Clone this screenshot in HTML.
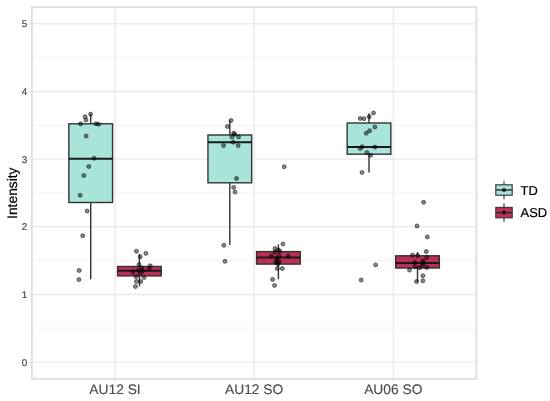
<!DOCTYPE html>
<html><head><meta charset="utf-8"><style>
html,body{margin:0;padding:0;background:#fff;width:550px;height:401px;overflow:hidden}
svg{display:block;font-family:"Liberation Sans",Arial,sans-serif;text-rendering:geometricPrecision}
</style></head><body>
<svg width="550" height="401" viewBox="0 0 550 401">
<rect x="0" y="0" width="550" height="401" fill="#fff"/>
<line x1="31.9" x2="476.4" y1="328.27" y2="328.27" stroke="#f5f5f5" stroke-width="1.2"/>
<line x1="31.9" x2="476.4" y1="260.61" y2="260.61" stroke="#f5f5f5" stroke-width="1.2"/>
<line x1="31.9" x2="476.4" y1="192.95" y2="192.95" stroke="#f5f5f5" stroke-width="1.2"/>
<line x1="31.9" x2="476.4" y1="125.29" y2="125.29" stroke="#f5f5f5" stroke-width="1.2"/>
<line x1="31.9" x2="476.4" y1="57.63" y2="57.63" stroke="#f5f5f5" stroke-width="1.2"/>
<line x1="31.9" x2="476.4" y1="362.10" y2="362.10" stroke="#ebebeb" stroke-width="1.4"/>
<line x1="31.9" x2="476.4" y1="294.44" y2="294.44" stroke="#ebebeb" stroke-width="1.4"/>
<line x1="31.9" x2="476.4" y1="226.78" y2="226.78" stroke="#ebebeb" stroke-width="1.4"/>
<line x1="31.9" x2="476.4" y1="159.12" y2="159.12" stroke="#ebebeb" stroke-width="1.4"/>
<line x1="31.9" x2="476.4" y1="91.46" y2="91.46" stroke="#ebebeb" stroke-width="1.4"/>
<line x1="31.9" x2="476.4" y1="23.80" y2="23.80" stroke="#ebebeb" stroke-width="1.4"/>
<line x1="115.0" x2="115.0" y1="7.05" y2="378.8" stroke="#ebebeb" stroke-width="1.4"/>
<line x1="254.15" x2="254.15" y1="7.05" y2="378.8" stroke="#ebebeb" stroke-width="1.4"/>
<line x1="393.3" x2="393.3" y1="7.05" y2="378.8" stroke="#ebebeb" stroke-width="1.4"/>
<line x1="90.7" x2="90.7" y1="114.0" y2="123.8" stroke="#333333" stroke-width="1.4"/>
<line x1="90.7" x2="90.7" y1="202.5" y2="279.3" stroke="#333333" stroke-width="1.4"/>
<rect x="68.85" y="123.8" width="43.70" height="78.70" fill="#a8e4d9" stroke="#333333" stroke-width="1.4"/>
<line x1="68.85" x2="112.55" y1="158.75" y2="158.75" stroke="#1a1a1a" stroke-width="2.0"/>
<line x1="139.4" x2="139.4" y1="253.9" y2="266.5" stroke="#333333" stroke-width="1.4"/>
<line x1="139.4" x2="139.4" y1="275.9" y2="286.5" stroke="#333333" stroke-width="1.4"/>
<rect x="117.55" y="266.5" width="43.70" height="9.40" fill="#bb2f57" stroke="#333333" stroke-width="1.4"/>
<line x1="117.55" x2="161.25" y1="270.7" y2="270.7" stroke="#1a1a1a" stroke-width="2.0"/>
<line x1="229.8" x2="229.8" y1="120.5" y2="135.0" stroke="#333333" stroke-width="1.4"/>
<line x1="229.8" x2="229.8" y1="182.8" y2="244.9" stroke="#333333" stroke-width="1.4"/>
<rect x="207.95" y="135.0" width="43.70" height="47.80" fill="#a8e4d9" stroke="#333333" stroke-width="1.4"/>
<line x1="207.95" x2="251.65" y1="142.3" y2="142.3" stroke="#1a1a1a" stroke-width="2.0"/>
<line x1="278.4" x2="278.4" y1="244.3" y2="251.6" stroke="#333333" stroke-width="1.4"/>
<line x1="278.4" x2="278.4" y1="264.1" y2="279.3" stroke="#333333" stroke-width="1.4"/>
<rect x="256.55" y="251.6" width="43.70" height="12.50" fill="#bb2f57" stroke="#333333" stroke-width="1.4"/>
<line x1="256.55" x2="300.25" y1="257.6" y2="257.6" stroke="#1a1a1a" stroke-width="2.0"/>
<line x1="369.0" x2="369.0" y1="113.3" y2="123.0" stroke="#333333" stroke-width="1.4"/>
<line x1="369.0" x2="369.0" y1="154.2" y2="172.4" stroke="#333333" stroke-width="1.4"/>
<rect x="347.15" y="123.0" width="43.70" height="31.20" fill="#a8e4d9" stroke="#333333" stroke-width="1.4"/>
<line x1="347.15" x2="390.85" y1="147.0" y2="147.0" stroke="#1a1a1a" stroke-width="2.0"/>
<line x1="417.5" x2="417.5" y1="252.1" y2="255.8" stroke="#333333" stroke-width="1.4"/>
<line x1="417.5" x2="417.5" y1="268.0" y2="281.9" stroke="#333333" stroke-width="1.4"/>
<rect x="395.65" y="255.8" width="43.70" height="12.20" fill="#bb2f57" stroke="#333333" stroke-width="1.4"/>
<line x1="395.65" x2="439.35" y1="262.9" y2="262.9" stroke="#1a1a1a" stroke-width="2.0"/>
<circle cx="90.6" cy="114.1" r="2.0" fill="rgba(0,0,0,0.47)" stroke="rgba(0,0,0,0.62)" stroke-width="0.8"/>
<circle cx="85.1" cy="116.7" r="2.0" fill="rgba(0,0,0,0.47)" stroke="rgba(0,0,0,0.62)" stroke-width="0.8"/>
<circle cx="86.0" cy="119.9" r="2.0" fill="rgba(0,0,0,0.47)" stroke="rgba(0,0,0,0.62)" stroke-width="0.8"/>
<circle cx="80.6" cy="123.8" r="2.0" fill="rgba(0,0,0,0.47)" stroke="rgba(0,0,0,0.62)" stroke-width="0.8"/>
<circle cx="95.9" cy="123.7" r="2.0" fill="rgba(0,0,0,0.47)" stroke="rgba(0,0,0,0.62)" stroke-width="0.8"/>
<circle cx="98.6" cy="124.3" r="2.0" fill="rgba(0,0,0,0.47)" stroke="rgba(0,0,0,0.62)" stroke-width="0.8"/>
<circle cx="86.2" cy="136.1" r="2.0" fill="rgba(0,0,0,0.47)" stroke="rgba(0,0,0,0.62)" stroke-width="0.8"/>
<circle cx="94.1" cy="158.3" r="2.0" fill="rgba(0,0,0,0.47)" stroke="rgba(0,0,0,0.62)" stroke-width="0.8"/>
<circle cx="88.8" cy="166.5" r="2.0" fill="rgba(0,0,0,0.47)" stroke="rgba(0,0,0,0.62)" stroke-width="0.8"/>
<circle cx="83.8" cy="175.5" r="2.0" fill="rgba(0,0,0,0.47)" stroke="rgba(0,0,0,0.62)" stroke-width="0.8"/>
<circle cx="80.1" cy="195.3" r="2.0" fill="rgba(0,0,0,0.47)" stroke="rgba(0,0,0,0.62)" stroke-width="0.8"/>
<circle cx="87.1" cy="211.1" r="2.0" fill="rgba(0,0,0,0.47)" stroke="rgba(0,0,0,0.62)" stroke-width="0.8"/>
<circle cx="82.7" cy="235.7" r="2.0" fill="rgba(0,0,0,0.47)" stroke="rgba(0,0,0,0.62)" stroke-width="0.8"/>
<circle cx="79.2" cy="270.5" r="2.0" fill="rgba(0,0,0,0.47)" stroke="rgba(0,0,0,0.62)" stroke-width="0.8"/>
<circle cx="78.9" cy="279.6" r="2.0" fill="rgba(0,0,0,0.47)" stroke="rgba(0,0,0,0.62)" stroke-width="0.8"/>
<circle cx="136.5" cy="251.25" r="2.0" fill="rgba(0,0,0,0.47)" stroke="rgba(0,0,0,0.62)" stroke-width="0.8"/>
<circle cx="145.9" cy="253.4" r="2.0" fill="rgba(0,0,0,0.47)" stroke="rgba(0,0,0,0.62)" stroke-width="0.8"/>
<circle cx="140.25" cy="256.75" r="2.0" fill="rgba(0,0,0,0.47)" stroke="rgba(0,0,0,0.62)" stroke-width="0.8"/>
<circle cx="139.0" cy="264.6" r="2.0" fill="rgba(0,0,0,0.47)" stroke="rgba(0,0,0,0.62)" stroke-width="0.8"/>
<circle cx="150.2" cy="265.8" r="2.0" fill="rgba(0,0,0,0.47)" stroke="rgba(0,0,0,0.62)" stroke-width="0.8"/>
<circle cx="149.1" cy="269.1" r="2.0" fill="rgba(0,0,0,0.47)" stroke="rgba(0,0,0,0.62)" stroke-width="0.8"/>
<circle cx="141.8" cy="268.0" r="2.0" fill="rgba(0,0,0,0.47)" stroke="rgba(0,0,0,0.62)" stroke-width="0.8"/>
<circle cx="132.9" cy="271.9" r="2.0" fill="rgba(0,0,0,0.47)" stroke="rgba(0,0,0,0.62)" stroke-width="0.8"/>
<circle cx="138.5" cy="270.2" r="2.0" fill="rgba(0,0,0,0.47)" stroke="rgba(0,0,0,0.62)" stroke-width="0.8"/>
<circle cx="140.1" cy="273.6" r="2.0" fill="rgba(0,0,0,0.47)" stroke="rgba(0,0,0,0.62)" stroke-width="0.8"/>
<circle cx="136.0" cy="276.7" r="2.0" fill="rgba(0,0,0,0.47)" stroke="rgba(0,0,0,0.62)" stroke-width="0.8"/>
<circle cx="144.0" cy="277.5" r="2.0" fill="rgba(0,0,0,0.47)" stroke="rgba(0,0,0,0.62)" stroke-width="0.8"/>
<circle cx="136.5" cy="281.5" r="2.0" fill="rgba(0,0,0,0.47)" stroke="rgba(0,0,0,0.62)" stroke-width="0.8"/>
<circle cx="140.7" cy="281.5" r="2.0" fill="rgba(0,0,0,0.47)" stroke="rgba(0,0,0,0.62)" stroke-width="0.8"/>
<circle cx="135.4" cy="286.6" r="2.0" fill="rgba(0,0,0,0.47)" stroke="rgba(0,0,0,0.62)" stroke-width="0.8"/>
<circle cx="142.5" cy="271.0" r="2.0" fill="rgba(0,0,0,0.47)" stroke="rgba(0,0,0,0.62)" stroke-width="0.8"/>
<circle cx="231.0" cy="120.5" r="2.0" fill="rgba(0,0,0,0.47)" stroke="rgba(0,0,0,0.62)" stroke-width="0.8"/>
<circle cx="227.4" cy="126.5" r="2.0" fill="rgba(0,0,0,0.47)" stroke="rgba(0,0,0,0.62)" stroke-width="0.8"/>
<circle cx="233.7" cy="133.2" r="2.0" fill="rgba(0,0,0,0.47)" stroke="rgba(0,0,0,0.62)" stroke-width="0.8"/>
<circle cx="234.7" cy="134.2" r="2.0" fill="rgba(0,0,0,0.47)" stroke="rgba(0,0,0,0.62)" stroke-width="0.8"/>
<circle cx="231.9" cy="136.9" r="2.0" fill="rgba(0,0,0,0.47)" stroke="rgba(0,0,0,0.62)" stroke-width="0.8"/>
<circle cx="238.6" cy="136.9" r="2.0" fill="rgba(0,0,0,0.47)" stroke="rgba(0,0,0,0.62)" stroke-width="0.8"/>
<circle cx="233.2" cy="142.2" r="2.0" fill="rgba(0,0,0,0.47)" stroke="rgba(0,0,0,0.62)" stroke-width="0.8"/>
<circle cx="223.5" cy="145.6" r="2.0" fill="rgba(0,0,0,0.47)" stroke="rgba(0,0,0,0.62)" stroke-width="0.8"/>
<circle cx="238.2" cy="145.6" r="2.0" fill="rgba(0,0,0,0.47)" stroke="rgba(0,0,0,0.62)" stroke-width="0.8"/>
<circle cx="236.5" cy="178.4" r="2.0" fill="rgba(0,0,0,0.47)" stroke="rgba(0,0,0,0.62)" stroke-width="0.8"/>
<circle cx="233.7" cy="187.4" r="2.0" fill="rgba(0,0,0,0.47)" stroke="rgba(0,0,0,0.62)" stroke-width="0.8"/>
<circle cx="235.0" cy="192.1" r="2.0" fill="rgba(0,0,0,0.47)" stroke="rgba(0,0,0,0.62)" stroke-width="0.8"/>
<circle cx="223.8" cy="245.3" r="2.0" fill="rgba(0,0,0,0.47)" stroke="rgba(0,0,0,0.62)" stroke-width="0.8"/>
<circle cx="225.0" cy="261.3" r="2.0" fill="rgba(0,0,0,0.47)" stroke="rgba(0,0,0,0.62)" stroke-width="0.8"/>
<circle cx="284.2" cy="166.8" r="2.0" fill="rgba(0,0,0,0.47)" stroke="rgba(0,0,0,0.62)" stroke-width="0.8"/>
<circle cx="282.9" cy="244.0" r="2.0" fill="rgba(0,0,0,0.47)" stroke="rgba(0,0,0,0.62)" stroke-width="0.8"/>
<circle cx="275.0" cy="248.5" r="2.0" fill="rgba(0,0,0,0.47)" stroke="rgba(0,0,0,0.62)" stroke-width="0.8"/>
<circle cx="278.3" cy="250.0" r="2.0" fill="rgba(0,0,0,0.47)" stroke="rgba(0,0,0,0.62)" stroke-width="0.8"/>
<circle cx="275.0" cy="252.1" r="2.0" fill="rgba(0,0,0,0.47)" stroke="rgba(0,0,0,0.62)" stroke-width="0.8"/>
<circle cx="271.4" cy="256.0" r="2.0" fill="rgba(0,0,0,0.47)" stroke="rgba(0,0,0,0.62)" stroke-width="0.8"/>
<circle cx="278.9" cy="256.0" r="2.0" fill="rgba(0,0,0,0.47)" stroke="rgba(0,0,0,0.62)" stroke-width="0.8"/>
<circle cx="288.3" cy="256.0" r="2.0" fill="rgba(0,0,0,0.47)" stroke="rgba(0,0,0,0.62)" stroke-width="0.8"/>
<circle cx="276.8" cy="258.7" r="2.0" fill="rgba(0,0,0,0.47)" stroke="rgba(0,0,0,0.62)" stroke-width="0.8"/>
<circle cx="276.7" cy="261.1" r="2.0" fill="rgba(0,0,0,0.47)" stroke="rgba(0,0,0,0.62)" stroke-width="0.8"/>
<circle cx="278.1" cy="263.8" r="2.0" fill="rgba(0,0,0,0.47)" stroke="rgba(0,0,0,0.62)" stroke-width="0.8"/>
<circle cx="277.3" cy="268.5" r="2.0" fill="rgba(0,0,0,0.47)" stroke="rgba(0,0,0,0.62)" stroke-width="0.8"/>
<circle cx="282.3" cy="268.5" r="2.0" fill="rgba(0,0,0,0.47)" stroke="rgba(0,0,0,0.62)" stroke-width="0.8"/>
<circle cx="272.6" cy="279.4" r="2.0" fill="rgba(0,0,0,0.47)" stroke="rgba(0,0,0,0.62)" stroke-width="0.8"/>
<circle cx="274.5" cy="285.4" r="2.0" fill="rgba(0,0,0,0.47)" stroke="rgba(0,0,0,0.62)" stroke-width="0.8"/>
<circle cx="279.8" cy="251.2" r="2.0" fill="rgba(0,0,0,0.47)" stroke="rgba(0,0,0,0.62)" stroke-width="0.8"/>
<circle cx="276.0" cy="262.5" r="2.0" fill="rgba(0,0,0,0.47)" stroke="rgba(0,0,0,0.62)" stroke-width="0.8"/>
<circle cx="279.0" cy="261.5" r="2.0" fill="rgba(0,0,0,0.47)" stroke="rgba(0,0,0,0.62)" stroke-width="0.8"/>
<circle cx="373.5" cy="113.0" r="2.0" fill="rgba(0,0,0,0.47)" stroke="rgba(0,0,0,0.62)" stroke-width="0.8"/>
<circle cx="369.2" cy="116.7" r="2.0" fill="rgba(0,0,0,0.47)" stroke="rgba(0,0,0,0.62)" stroke-width="0.8"/>
<circle cx="360.2" cy="118.5" r="2.0" fill="rgba(0,0,0,0.47)" stroke="rgba(0,0,0,0.62)" stroke-width="0.8"/>
<circle cx="364.0" cy="118.7" r="2.0" fill="rgba(0,0,0,0.47)" stroke="rgba(0,0,0,0.62)" stroke-width="0.8"/>
<circle cx="374.9" cy="126.9" r="2.0" fill="rgba(0,0,0,0.47)" stroke="rgba(0,0,0,0.62)" stroke-width="0.8"/>
<circle cx="369.6" cy="130.7" r="2.0" fill="rgba(0,0,0,0.47)" stroke="rgba(0,0,0,0.62)" stroke-width="0.8"/>
<circle cx="366.2" cy="133.2" r="2.0" fill="rgba(0,0,0,0.47)" stroke="rgba(0,0,0,0.62)" stroke-width="0.8"/>
<circle cx="362.1" cy="146.7" r="2.0" fill="rgba(0,0,0,0.47)" stroke="rgba(0,0,0,0.62)" stroke-width="0.8"/>
<circle cx="360.2" cy="148.6" r="2.0" fill="rgba(0,0,0,0.47)" stroke="rgba(0,0,0,0.62)" stroke-width="0.8"/>
<circle cx="374.9" cy="147.1" r="2.0" fill="rgba(0,0,0,0.47)" stroke="rgba(0,0,0,0.62)" stroke-width="0.8"/>
<circle cx="366.9" cy="152.5" r="2.0" fill="rgba(0,0,0,0.47)" stroke="rgba(0,0,0,0.62)" stroke-width="0.8"/>
<circle cx="370.7" cy="155.3" r="2.0" fill="rgba(0,0,0,0.47)" stroke="rgba(0,0,0,0.62)" stroke-width="0.8"/>
<circle cx="362.0" cy="172.4" r="2.0" fill="rgba(0,0,0,0.47)" stroke="rgba(0,0,0,0.62)" stroke-width="0.8"/>
<circle cx="375.6" cy="264.9" r="2.0" fill="rgba(0,0,0,0.47)" stroke="rgba(0,0,0,0.62)" stroke-width="0.8"/>
<circle cx="361.2" cy="280.1" r="2.0" fill="rgba(0,0,0,0.47)" stroke="rgba(0,0,0,0.62)" stroke-width="0.8"/>
<circle cx="423.6" cy="202.3" r="2.0" fill="rgba(0,0,0,0.47)" stroke="rgba(0,0,0,0.62)" stroke-width="0.8"/>
<circle cx="417.0" cy="225.9" r="2.0" fill="rgba(0,0,0,0.47)" stroke="rgba(0,0,0,0.62)" stroke-width="0.8"/>
<circle cx="427.3" cy="236.9" r="2.0" fill="rgba(0,0,0,0.47)" stroke="rgba(0,0,0,0.62)" stroke-width="0.8"/>
<circle cx="426.3" cy="251.6" r="2.0" fill="rgba(0,0,0,0.47)" stroke="rgba(0,0,0,0.62)" stroke-width="0.8"/>
<circle cx="412.5" cy="255.1" r="2.0" fill="rgba(0,0,0,0.47)" stroke="rgba(0,0,0,0.62)" stroke-width="0.8"/>
<circle cx="417.7" cy="255.5" r="2.0" fill="rgba(0,0,0,0.47)" stroke="rgba(0,0,0,0.62)" stroke-width="0.8"/>
<circle cx="426.7" cy="257.4" r="2.0" fill="rgba(0,0,0,0.47)" stroke="rgba(0,0,0,0.62)" stroke-width="0.8"/>
<circle cx="423.0" cy="261.1" r="2.0" fill="rgba(0,0,0,0.47)" stroke="rgba(0,0,0,0.62)" stroke-width="0.8"/>
<circle cx="414.7" cy="262.6" r="2.0" fill="rgba(0,0,0,0.47)" stroke="rgba(0,0,0,0.62)" stroke-width="0.8"/>
<circle cx="423.3" cy="263.0" r="2.0" fill="rgba(0,0,0,0.47)" stroke="rgba(0,0,0,0.62)" stroke-width="0.8"/>
<circle cx="415.1" cy="266.7" r="2.0" fill="rgba(0,0,0,0.47)" stroke="rgba(0,0,0,0.62)" stroke-width="0.8"/>
<circle cx="419.6" cy="267.8" r="2.0" fill="rgba(0,0,0,0.47)" stroke="rgba(0,0,0,0.62)" stroke-width="0.8"/>
<circle cx="426.7" cy="267.5" r="2.0" fill="rgba(0,0,0,0.47)" stroke="rgba(0,0,0,0.62)" stroke-width="0.8"/>
<circle cx="409.5" cy="270.1" r="2.0" fill="rgba(0,0,0,0.47)" stroke="rgba(0,0,0,0.62)" stroke-width="0.8"/>
<circle cx="422.9" cy="275.7" r="2.0" fill="rgba(0,0,0,0.47)" stroke="rgba(0,0,0,0.62)" stroke-width="0.8"/>
<circle cx="422.9" cy="280.8" r="2.0" fill="rgba(0,0,0,0.47)" stroke="rgba(0,0,0,0.62)" stroke-width="0.8"/>
<circle cx="416.5" cy="281.6" r="2.0" fill="rgba(0,0,0,0.47)" stroke="rgba(0,0,0,0.62)" stroke-width="0.8"/>
<circle cx="422.5" cy="264.8" r="2.0" fill="rgba(0,0,0,0.47)" stroke="rgba(0,0,0,0.62)" stroke-width="0.8"/>
<rect x="31.9" y="7.05" width="444.50" height="371.75" fill="none" stroke="#dcdcdc" stroke-width="1.7"/>
<line x1="29.30" x2="31.9" y1="362.10" y2="362.10" stroke="#dcdcdc" stroke-width="1"/>
<text x="27.10" y="365.50" text-anchor="end" font-size="9.8" fill="#3d3d3d" stroke="#3d3d3d" stroke-width="0.15">0</text>
<line x1="29.30" x2="31.9" y1="294.44" y2="294.44" stroke="#dcdcdc" stroke-width="1"/>
<text x="27.10" y="297.84" text-anchor="end" font-size="9.8" fill="#3d3d3d" stroke="#3d3d3d" stroke-width="0.15">1</text>
<line x1="29.30" x2="31.9" y1="226.78" y2="226.78" stroke="#dcdcdc" stroke-width="1"/>
<text x="27.10" y="230.18" text-anchor="end" font-size="9.8" fill="#3d3d3d" stroke="#3d3d3d" stroke-width="0.15">2</text>
<line x1="29.30" x2="31.9" y1="159.12" y2="159.12" stroke="#dcdcdc" stroke-width="1"/>
<text x="27.10" y="162.52" text-anchor="end" font-size="9.8" fill="#3d3d3d" stroke="#3d3d3d" stroke-width="0.15">3</text>
<line x1="29.30" x2="31.9" y1="91.46" y2="91.46" stroke="#dcdcdc" stroke-width="1"/>
<text x="27.10" y="94.86" text-anchor="end" font-size="9.8" fill="#3d3d3d" stroke="#3d3d3d" stroke-width="0.15">4</text>
<line x1="29.30" x2="31.9" y1="23.80" y2="23.80" stroke="#dcdcdc" stroke-width="1"/>
<text x="27.10" y="27.20" text-anchor="end" font-size="9.8" fill="#3d3d3d" stroke="#3d3d3d" stroke-width="0.15">5</text>
<line x1="115.0" x2="115.0" y1="378.8" y2="381.40" stroke="#dcdcdc" stroke-width="1"/>
<text x="115.0" y="393.7" text-anchor="middle" font-size="13.8" fill="#4d4d4d" stroke="#4d4d4d" stroke-width="0.15">AU12 SI</text>
<line x1="254.15" x2="254.15" y1="378.8" y2="381.40" stroke="#dcdcdc" stroke-width="1"/>
<text x="254.15" y="393.7" text-anchor="middle" font-size="13.8" fill="#4d4d4d" stroke="#4d4d4d" stroke-width="0.15">AU12 SO</text>
<line x1="393.3" x2="393.3" y1="378.8" y2="381.40" stroke="#dcdcdc" stroke-width="1"/>
<text x="393.3" y="393.7" text-anchor="middle" font-size="13.8" fill="#4d4d4d" stroke="#4d4d4d" stroke-width="0.15">AU06 SO</text>
<text transform="translate(16.5,193.2) rotate(-90)" text-anchor="middle" font-size="13.8" fill="#000" stroke="#000" stroke-width="0.2">Intensity</text>
<line x1="504.0" x2="504.0" y1="180.75" y2="199.25" stroke="#3d3d3d" stroke-width="1.2"/>
<rect x="495.8" y="184.8" width="16.4" height="10.4" fill="#a8e4d9" stroke="#3d3d3d" stroke-width="1.2"/>
<line x1="495.8" x2="512.2" y1="190.0" y2="190.0" stroke="#2a2a2a" stroke-width="1.4"/>
<circle cx="504.0" cy="190.0" r="2.05" fill="rgba(0,0,0,0.8)"/>
<line x1="504.0" x2="504.0" y1="203.35" y2="221.85" stroke="#3d3d3d" stroke-width="1.2"/>
<rect x="495.8" y="207.4" width="16.4" height="10.4" fill="#bb2f57" stroke="#3d3d3d" stroke-width="1.2"/>
<line x1="495.8" x2="512.2" y1="212.6" y2="212.6" stroke="#2a2a2a" stroke-width="1.4"/>
<circle cx="504.0" cy="212.6" r="2.05" fill="rgba(0,0,0,0.8)"/>
<text x="520.6" y="194.6" font-size="12.9" fill="#000" stroke="#000" stroke-width="0.2">TD</text>
<text x="520.6" y="216.7" font-size="12.9" fill="#000" stroke="#000" stroke-width="0.2">ASD</text>
</svg>
</body></html>
